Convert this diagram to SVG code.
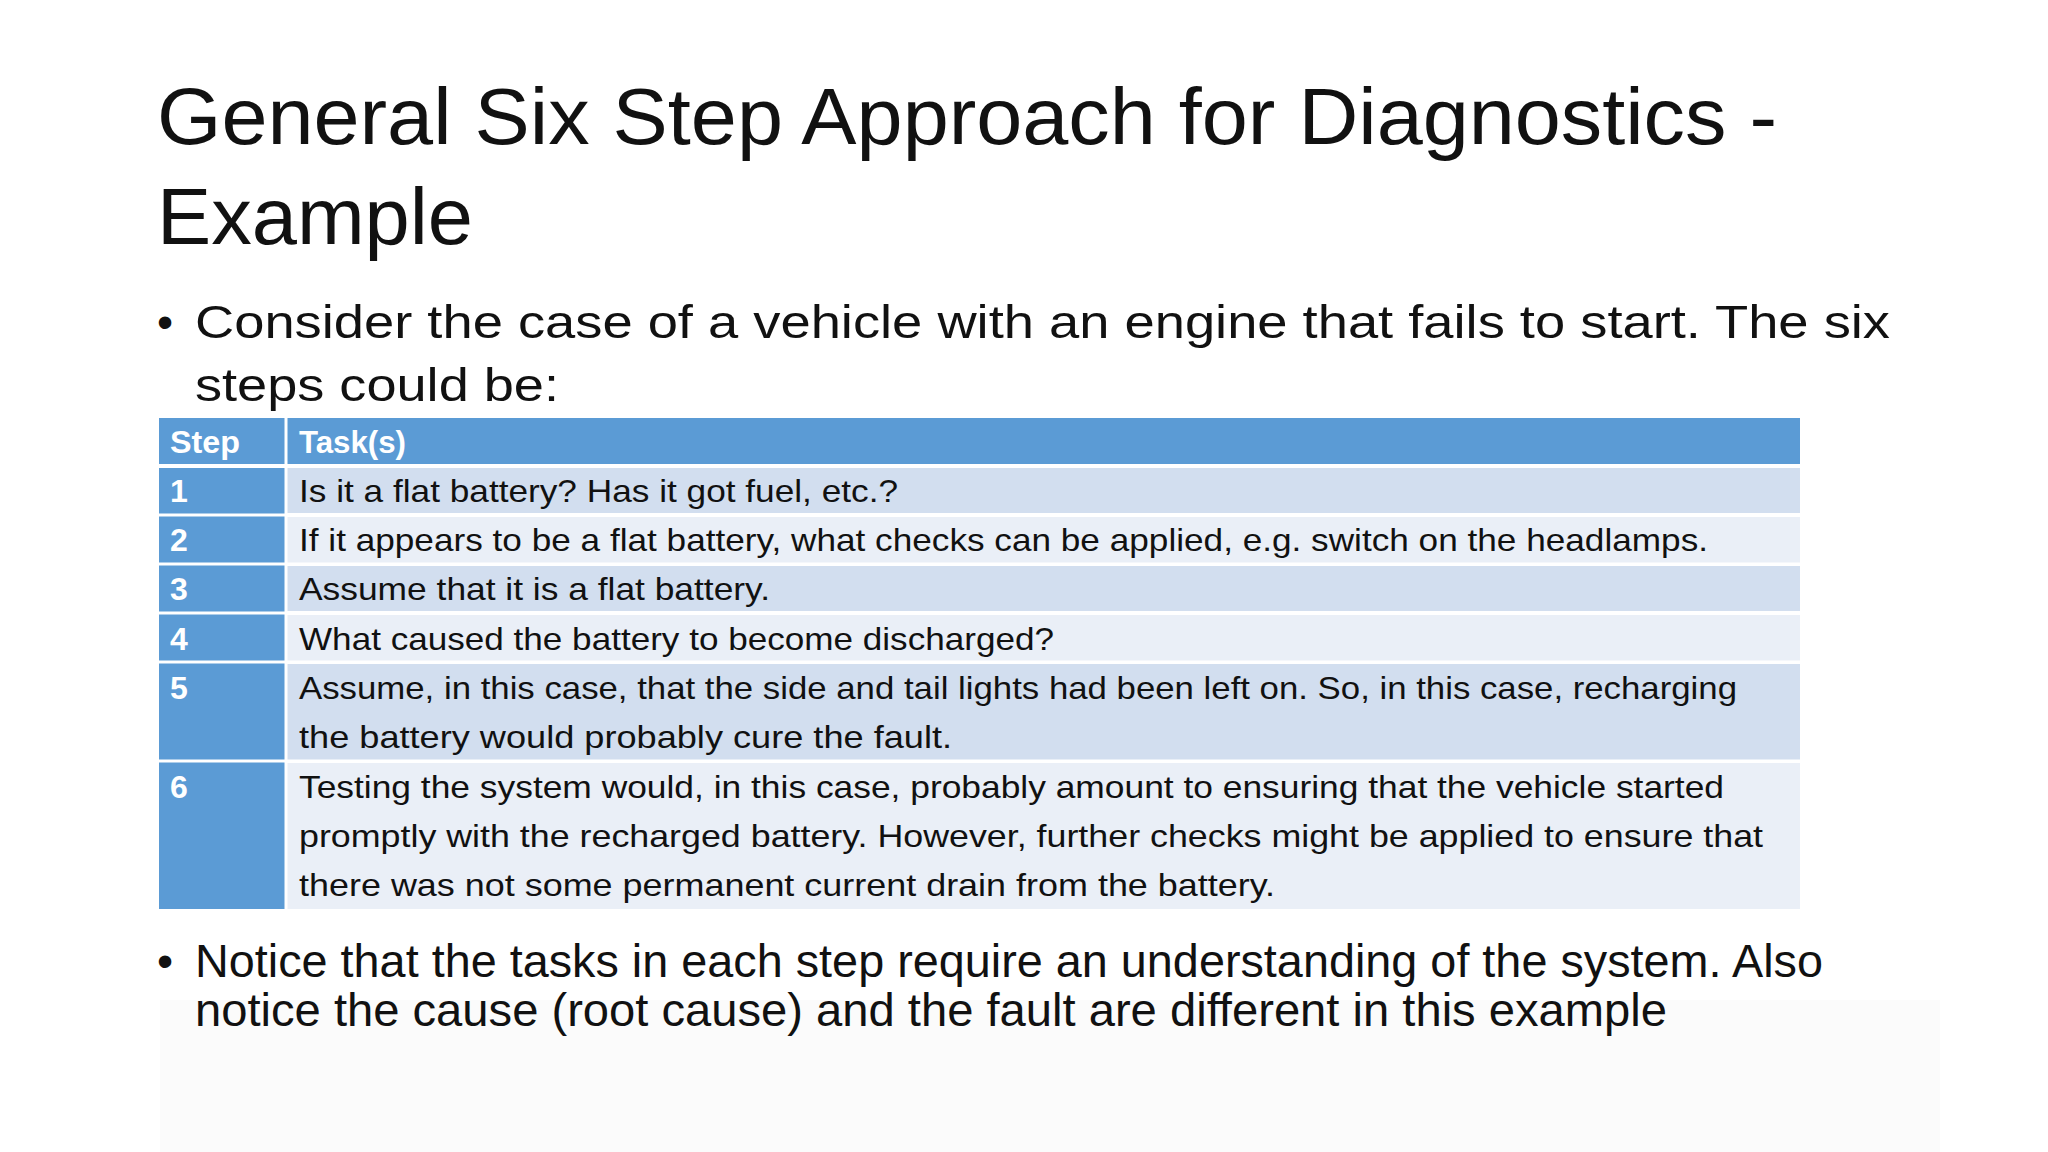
<svg xmlns="http://www.w3.org/2000/svg" width="2048" height="1152" viewBox="0 0 2048 1152">
<style>
text{font-family:"Liberation Sans",Arial,sans-serif;fill:#111}
.t{font-size:80px;font-weight:300}
.b{font-size:46px}
.c{font-size:32px}
.w{fill:#fff;font-weight:bold;font-size:32px}
.odd{fill:#d2deef}.even{fill:#eaeff7}.blue{fill:#5b9bd5}
</style>
<rect width="2048" height="1152" fill="#fff"/>
<rect x="160" y="1000" width="1780" height="152" fill="#fbfbfb"/>
<g id="title">
<text class="t" x="157" y="144" textLength="1620" lengthAdjust="spacingAndGlyphs">General Six Step Approach for Diagnostics -</text>
<text class="t" x="157" y="244" textLength="316" lengthAdjust="spacingAndGlyphs">Example</text>
</g>
<g id="bullet1">
<text class="b" x="157" y="338">•</text>
<text class="b" x="195" y="338" textLength="1695" lengthAdjust="spacingAndGlyphs">Consider the case of a vehicle with an engine that fails to start. The six</text>
<text class="b" x="195" y="401" textLength="364" lengthAdjust="spacingAndGlyphs">steps could be:</text>
</g>
<g id="table">
<rect class="blue" x="159" y="418" width="1641" height="46"/>
<rect class="odd" x="159" y="468" width="1641" height="45"/>
<rect class="even" x="159" y="517" width="1641" height="46"/>
<rect class="odd" x="159" y="566" width="1641" height="45"/>
<rect class="even" x="159" y="615" width="1641" height="46"/>
<rect class="odd" x="159" y="664" width="1641" height="96"/>
<rect class="even" x="159" y="763" width="1641" height="146"/>
<rect class="blue" x="159" y="468" width="126" height="441"/>
<g stroke="#fff" stroke-width="3">
<line x1="286" y1="418" x2="286" y2="909"/>
<line x1="159" y1="466" x2="1800" y2="466"/>
<line x1="159" y1="515" x2="1800" y2="515"/>
<line x1="159" y1="564" x2="1800" y2="564"/>
<line x1="159" y1="613" x2="1800" y2="613"/>
<line x1="159" y1="662" x2="1800" y2="662"/>
<line x1="159" y1="761" x2="1800" y2="761"/>
</g>
<text class="w" x="170" y="453" textLength="70" lengthAdjust="spacingAndGlyphs">Step</text>
<text class="w" x="299" y="453" textLength="107" lengthAdjust="spacingAndGlyphs">Task(s)</text>
<text class="w" x="170" y="502">1</text>
<text class="w" x="170" y="551">2</text>
<text class="w" x="170" y="600">3</text>
<text class="w" x="170" y="650">4</text>
<text class="w" x="170" y="699">5</text>
<text class="w" x="170" y="798">6</text>
<text class="c" x="299" y="502" textLength="599" lengthAdjust="spacingAndGlyphs">Is it a flat battery? Has it got fuel, etc.?</text>
<text class="c" x="299" y="551" textLength="1409" lengthAdjust="spacingAndGlyphs">If it appears to be a flat battery, what checks can be applied, e.g. switch on the headlamps.</text>
<text class="c" x="299" y="600" textLength="471" lengthAdjust="spacingAndGlyphs">Assume that it is a flat battery.</text>
<text class="c" x="299" y="650" textLength="755" lengthAdjust="spacingAndGlyphs">What caused the battery to become discharged?</text>
<text class="c" x="299" y="699" textLength="1438" lengthAdjust="spacingAndGlyphs">Assume, in this case, that the side and tail lights had been left on. So, in this case, recharging</text>
<text class="c" x="299" y="748" textLength="653" lengthAdjust="spacingAndGlyphs">the battery would probably cure the fault.</text>
<text class="c" x="299" y="798" textLength="1425" lengthAdjust="spacingAndGlyphs">Testing the system would, in this case, probably amount to ensuring that the vehicle started</text>
<text class="c" x="299" y="847" textLength="1464" lengthAdjust="spacingAndGlyphs">promptly with the recharged battery. However, further checks might be applied to ensure that</text>
<text class="c" x="299" y="896" textLength="976" lengthAdjust="spacingAndGlyphs">there was not some permanent current drain from the battery.</text>
</g>
<g id="bullet2">
<text class="b" x="157" y="977">•</text>
<text class="b" x="195" y="977" textLength="1628" lengthAdjust="spacingAndGlyphs">Notice that the tasks in each step require an understanding of the system. Also</text>
<text class="b" x="195" y="1026" textLength="1472" lengthAdjust="spacingAndGlyphs">notice the cause (root cause) and the fault are different in this example</text>
</g>
</svg>
